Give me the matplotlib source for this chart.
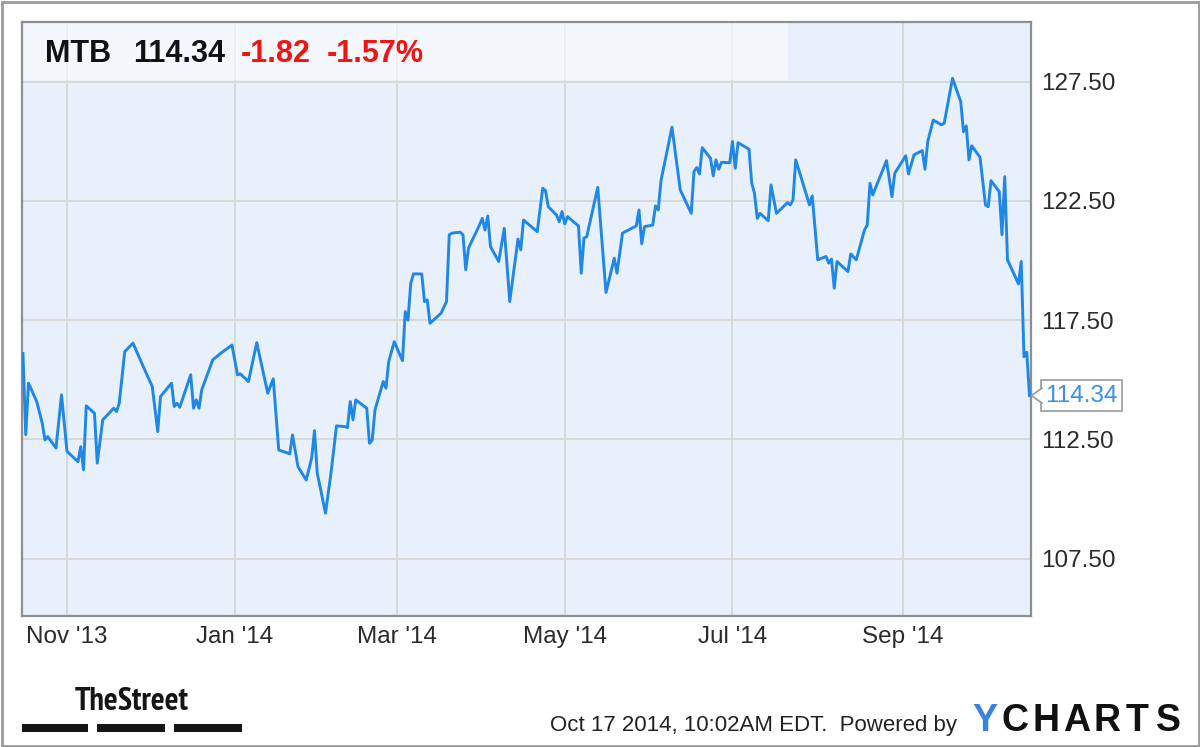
import matplotlib
matplotlib.use('Agg')
import matplotlib.pyplot as plt
import matplotlib.transforms as mtransforms
from matplotlib.patches import Rectangle, Polygon
from matplotlib.lines import Line2D
import matplotlib.dates as mdates
import pandas as pd
from datetime import datetime, timedelta

# ---------------- data ----------------
ticker = "MTB"
last_price = 114.34
change = "-1.82"
change_pct = "-1.57%"

dates = [
    "2013-10-16", "2013-10-17", "2013-10-18", "2013-10-21", "2013-10-23", "2013-10-24", "2013-10-25", "2013-10-28", "2013-10-30", "2013-11-01",
    "2013-11-05", "2013-11-06", "2013-11-07", "2013-11-08", "2013-11-11", "2013-11-12", "2013-11-14", "2013-11-18", "2013-11-19", "2013-11-20",
    "2013-11-22", "2013-11-25", "2013-11-29", "2013-12-02", "2013-12-04", "2013-12-05", "2013-12-09", "2013-12-10", "2013-12-11", "2013-12-12",
    "2013-12-16", "2013-12-17", "2013-12-18", "2013-12-19", "2013-12-20", "2013-12-24", "2013-12-27", "2013-12-31", "2014-01-02", "2014-01-03",
    "2014-01-06", "2014-01-09", "2014-01-13", "2014-01-15", "2014-01-17", "2014-01-21", "2014-01-22", "2014-01-24", "2014-01-27", "2014-01-29",
    "2014-01-30", "2014-01-31", "2014-02-03", "2014-02-05", "2014-02-07", "2014-02-10", "2014-02-11", "2014-02-12", "2014-02-13", "2014-02-14",
    "2014-02-18", "2014-02-19", "2014-02-20", "2014-02-21", "2014-02-24", "2014-02-25", "2014-02-26", "2014-02-28", "2014-03-03", "2014-03-04",
    "2014-03-05", "2014-03-06", "2014-03-07", "2014-03-10", "2014-03-11", "2014-03-12", "2014-03-13", "2014-03-17", "2014-03-19", "2014-03-20",
    "2014-03-21", "2014-03-24", "2014-03-25", "2014-03-26", "2014-03-27", "2014-03-31", "2014-04-01", "2014-04-02", "2014-04-03", "2014-04-04",
    "2014-04-07", "2014-04-09", "2014-04-11", "2014-04-14", "2014-04-15", "2014-04-16", "2014-04-21", "2014-04-23", "2014-04-24", "2014-04-25",
    "2014-04-28", "2014-04-29", "2014-04-30", "2014-05-01", "2014-05-02", "2014-05-06", "2014-05-07", "2014-05-08", "2014-05-09", "2014-05-13",
    "2014-05-16", "2014-05-19", "2014-05-20", "2014-05-22", "2014-05-27", "2014-05-28", "2014-05-29", "2014-05-30", "2014-06-02", "2014-06-03",
    "2014-06-04", "2014-06-05", "2014-06-09", "2014-06-12", "2014-06-16", "2014-06-17", "2014-06-18", "2014-06-19", "2014-06-20", "2014-06-23",
    "2014-06-24", "2014-06-25", "2014-06-26", "2014-06-27", "2014-06-30", "2014-07-01", "2014-07-02", "2014-07-03", "2014-07-07", "2014-07-08",
    "2014-07-09", "2014-07-10", "2014-07-11", "2014-07-14", "2014-07-15", "2014-07-17", "2014-07-21", "2014-07-22", "2014-07-23", "2014-07-24",
    "2014-07-29", "2014-07-30", "2014-08-01", "2014-08-04", "2014-08-05", "2014-08-06", "2014-08-07", "2014-08-08", "2014-08-12", "2014-08-13",
    "2014-08-15", "2014-08-18", "2014-08-19", "2014-08-20", "2014-08-21", "2014-08-26", "2014-08-28", "2014-08-29", "2014-09-02", "2014-09-03",
    "2014-09-05", "2014-09-08", "2014-09-09", "2014-09-10", "2014-09-12", "2014-09-15", "2014-09-16", "2014-09-19", "2014-09-22", "2014-09-23",
    "2014-09-24", "2014-09-25", "2014-09-26", "2014-09-29", "2014-10-01", "2014-10-02", "2014-10-03", "2014-10-06", "2014-10-07", "2014-10-08",
    "2014-10-09", "2014-10-13", "2014-10-14", "2014-10-15", "2014-10-16", "2014-10-17",
]

values = [
    116.10, 112.70, 114.86, 114.09, 113.18, 112.48, 112.62, 112.14, 114.37, 112.00,
    111.57, 112.20, 111.23, 113.91, 113.60, 111.51, 113.32, 113.81, 113.67, 114.02,
    116.18, 116.54, 115.49, 114.72, 112.83, 114.30, 114.86, 113.88, 114.02, 113.85,
    115.21, 113.81, 114.16, 113.81, 114.58, 115.84, 116.12, 116.46, 115.21, 115.25,
    114.93, 116.56, 114.44, 115.04, 112.06, 111.90, 112.69, 111.36, 110.80, 111.74,
    112.87, 111.09, 109.41, 111.09, 113.07, 113.04, 113.00, 114.09, 113.32, 114.16,
    113.81, 112.34, 112.48, 113.74, 114.93, 114.65, 115.77, 116.60, 115.80, 117.86,
    117.50, 119.05, 119.44, 119.44, 118.28, 118.35, 117.37, 117.79, 118.28, 121.08,
    121.15, 121.19, 121.08, 119.61, 120.52, 121.49, 121.77, 121.28, 121.87, 120.58,
    119.96, 121.35, 118.28, 120.90, 120.45, 121.70, 121.21, 123.03, 122.93, 122.26,
    121.91, 121.63, 122.05, 121.54, 121.84, 121.45, 119.47, 120.94, 121.00, 123.07,
    118.66, 120.10, 119.47, 121.15, 121.45, 122.12, 120.70, 121.42, 121.49, 122.29,
    122.12, 123.35, 125.59, 122.96, 121.98, 123.73, 123.90, 123.63, 124.73, 124.29,
    123.55, 124.22, 123.83, 124.12, 124.10, 124.99, 123.87, 124.94, 124.67, 123.24,
    122.82, 121.77, 121.98, 121.67, 123.17, 121.98, 122.43, 122.33, 122.54, 124.22,
    122.33, 122.71, 120.03, 120.17, 119.89, 120.06, 118.84, 119.96, 119.54, 120.28,
    120.03, 121.28, 121.49, 123.24, 122.75, 124.19, 122.68, 123.66, 124.39, 123.63,
    124.43, 124.61, 123.83, 124.99, 125.89, 125.69, 125.76, 127.64, 126.66, 125.40,
    125.64, 124.22, 124.81, 124.33, 122.33, 122.26, 123.35, 122.89, 121.08, 123.52,
    120.03, 119.02, 119.96, 115.97, 116.16, 114.34,
]

x_tick_dates = ["2013-11-01", "2014-01-01", "2014-03-01", "2014-05-01", "2014-07-01", "2014-09-01"]
x_tick_labels = ["Nov '13", "Jan '14", "Mar '14", "May '14", "Jul '14", "Sep '14"]
y_ticks = [107.5, 112.5, 117.5, 122.5, 127.5]
y_tick_labels = ["107.50", "112.50", "117.50", "122.50", "127.50"]

timestamp_text = "Oct 17 2014, 10:02AM EDT.  Powered by"

# ---------------- figure ----------------
W, H = 1200, 747
fig = plt.figure(figsize=(W / 100, H / 100), dpi=100)
fig.patch.set_facecolor('white')


def fx(px):
    return px / W


def fy(py):
    return 1 - py / H


FONT = 'Liberation Sans'
LOGO = ['PT Sans Narrow', 'Roboto Condensed', 'Liberation Sans']

ax = fig.add_axes([fx(22), fy(616), fx(1031) - fx(22), fy(22) - fy(616)])
ax.set_facecolor('#e8f0fc')

dt = pd.to_datetime(dates)
ax.plot(dt, values, color='#1f87e6', lw=2.1, solid_joinstyle='round', zorder=3)

ax.set_ylim(105.1, 130.0)
nov1 = datetime(2013, 11, 1)
ax.set_xlim(nov1 - timedelta(days=16.36), nov1 + timedelta(days=350.55))

ax.set_xticks(pd.to_datetime(x_tick_dates))
ax.set_xticklabels(x_tick_labels)
ax.set_yticks(y_ticks)
ax.set_yticklabels(y_tick_labels)
ax.yaxis.tick_right()
ax.tick_params(axis='both', length=0, labelsize=17.5, labelcolor='#2b2b2b')
ax.tick_params(axis='x', pad=7)
ax.tick_params(axis='y', pad=7)
for lab in ax.get_xticklabels() + ax.get_yticklabels():
    lab.set_family(FONT)

ax.set_axisbelow(True)
ax.grid(True, color='#d6d6d6', lw=1.3)
for s in ax.spines.values():
    s.set_color('#8f8f8f')
    s.set_linewidth(1.6)

# lighter header band
ax.add_patch(Rectangle((0, (616 - 80) / 594), (788 - 22) / 1009, 1 - (616 - 80) / 594,
                       transform=ax.transAxes, facecolor='white', alpha=0.55,
                       edgecolor='none', zorder=1))

# header texts
fig.text(fx(45), fy(62), ticker, family=FONT, weight='bold', fontsize=22, color='#111111', va='baseline')
fig.text(fx(133), fy(62), f"{last_price:.2f}", family=FONT, weight='bold', fontsize=22, color='#111111', va='baseline')
fig.text(fx(241), fy(62), change, family=FONT, weight='bold', fontsize=22, color='#f01414', va='baseline')
fig.text(fx(327), fy(62), change_pct, family=FONT, weight='bold', fontsize=22, color='#f01414', va='baseline')

# last-value callout
last_d = dt[-1]
last_v = values[-1]
ax.annotate(f"{last_v:.2f}", xy=(last_d, last_v), xytext=(16, 0), textcoords='offset pixels',
            ha='left', va='center', fontsize=17.5, family=FONT, color='#3990e6',
            bbox=dict(boxstyle='square,pad=0.17', fc='white', ec='#9a9a9a', lw=1.2),
            annotation_clip=False, zorder=5)
fig.canvas.draw()
px, py = ax.transData.transform((mdates.date2num(last_d), last_v))
ident = mtransforms.IdentityTransform()
fig.add_artist(Polygon([[px + 2, py], [px + 13.5, py + 7.5], [px + 13.5, py - 7.5]], closed=True,
                       transform=ident, facecolor='white', edgecolor='none', zorder=6))
fig.add_artist(Line2D([px + 12.5, px + 2, px + 12.5], [py + 7.5, py, py - 7.5], transform=ident,
                      color='#9a9a9a', lw=1.2, zorder=7))

# footer: TheStreet logo
fig.text(fx(75), fy(710), "TheStreet", family=LOGO, weight='bold', fontsize=23.3, color='#151515', va='baseline')
for x0, x1 in [(22, 88), (97, 165), (174, 242)]:
    fig.add_artist(Rectangle((fx(x0), fy(731.5)), fx(x1) - fx(x0), fy(723.5) - fy(731.5),
                             transform=fig.transFigure, facecolor='#151515', edgecolor='none'))

# footer: timestamp + YCHARTS
fig.text(fx(550), fy(731), timestamp_text, family=FONT, fontsize=16, color='#222222', va='baseline')
for i, ch in enumerate("YCHARTS"):
    fig.text(fx(985 + i * 30.5), fy(731), ch, family=FONT, weight='bold', fontsize=27,
             color='#3b82dc' if i == 0 else '#111111', ha='center', va='baseline')

# outer frame
fig.add_artist(Rectangle((fx(1.5), fy(H - 1.5)), fx(W - 3), fy(1.5) - fy(H - 1.5),
                         transform=fig.transFigure, fill=False, edgecolor='#9a9a9a', lw=2))

fig.savefig('out.png', dpi=100, facecolor='white')
